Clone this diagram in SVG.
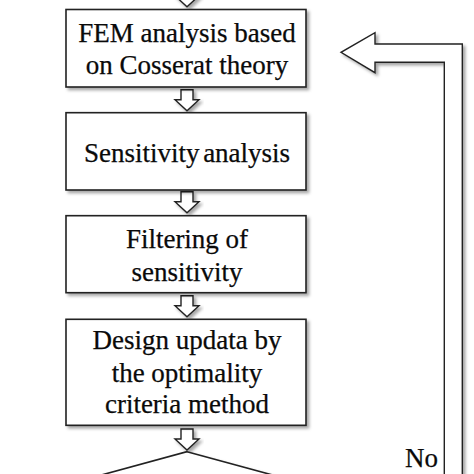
<svg xmlns="http://www.w3.org/2000/svg" width="474" height="474" viewBox="0 0 474 474">
<defs>
<filter id="sh" x="-10%" y="-10%" width="130%" height="130%">
<feDropShadow dx="2.5" dy="2.5" stdDeviation="1.5" flood-color="#000" flood-opacity="0.35"/>
</filter>
<path id="dn" d="M-6,-21 L6,-21 L6,-11 L12,-11 L0,0 L-12,-11 L-6,-11 Z"/>
</defs>
<style>
.box{fill:#fff;stroke:#222;stroke-width:1.6;filter:url(#sh)}
.arr{fill:#fff;stroke:#222;stroke-width:1.4;stroke-linejoin:miter;filter:url(#sh)}
.t{font-family:"Liberation Serif","Times New Roman",serif;font-size:27px;fill:#0a0a0a;text-anchor:middle;stroke:#0a0a0a;stroke-width:0.25}
</style>
<rect width="474" height="474" fill="#fff"/>
<g id="connectors">
<use href="#dn" class="arr" transform="translate(187,6.7)"/>
<use href="#dn" class="arr" transform="translate(187,110.7)"/>
<use href="#dn" class="arr" transform="translate(187,212.7)"/>
<use href="#dn" class="arr" transform="translate(187,316.7)"/>
<use href="#dn" class="arr" transform="translate(187,450)"/>
<path class="arr" d="M462.3,490 L462.3,44 L375,44 L375,32.7 L341,52.3 L375,72.7 L375,62.3 L444.3,62.3 L444.3,490"/>
<text class="t" x="405" y="467" style="text-anchor:start">No</text>
</g>
<g id="n1">
<rect class="box" x="66" y="9.5" width="240" height="77.5"/>
<text class="t" x="187" y="41.7">FEM analysis based</text>
<text class="t" x="187" y="74">on Cosserat theory</text>
</g>
<g id="n2">
<rect class="box" x="66" y="112.7" width="240" height="77.3"/>
<text class="t" x="187" y="161.7" style="word-spacing:-3px">Sensitivity analysis</text>
</g>
<g id="n3">
<rect class="box" x="66" y="215.7" width="240" height="77"/>
<text class="t" x="187" y="248.3">Filtering of</text>
<text class="t" x="187" y="281">sensitivity</text>
</g>
<g id="n4">
<rect class="box" x="66" y="319.3" width="240" height="106"/>
<text class="t" x="187" y="349.3">Design updata by</text>
<text class="t" x="187" y="381.7">the optimality</text>
<text class="t" x="187" y="413.3">criteria method</text>
</g>
<g id="n5">
<polygon class="box" points="187,451.7 370,501.5 187,551 4,501.5"/>
</g>
</svg>
